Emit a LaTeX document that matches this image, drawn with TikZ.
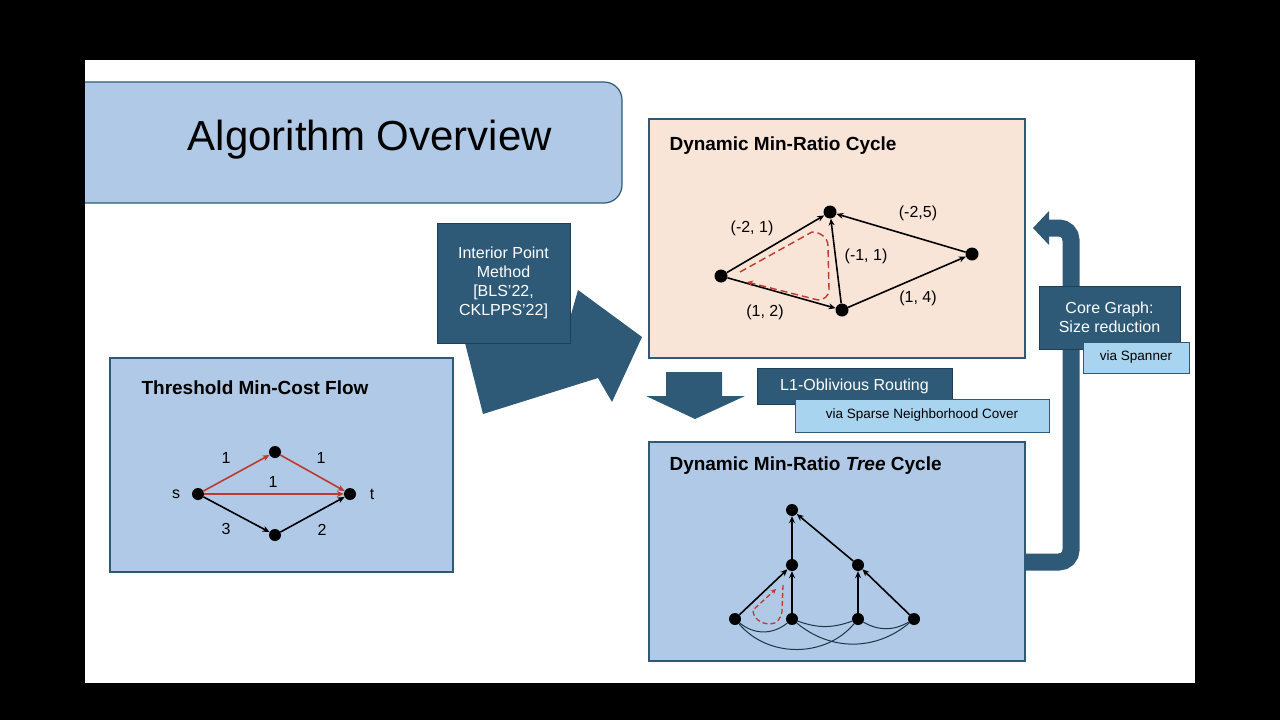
\documentclass[tikz,border=0pt]{standalone}
\usepackage{fontspec}
\setmainfont{Liberation Sans}
\usetikzlibrary{arrows.meta}
\definecolor{dk}{HTML}{2E5A78}
\definecolor{lb}{HTML}{AFC9E6}
\definecolor{pe}{HTML}{F8E5D8}
\definecolor{vb}{HTML}{A9D4EF}
\definecolor{rd}{HTML}{C0392B}
\tikzset{
  dot/.style={circle,fill=black,inner sep=0,minimum size=13pt},
  sdot/.style={circle,fill=black,inner sep=0,minimum size=12pt},
  ed/.style={line width=1.6pt,-{Stealth[length=7pt,width=6pt]}},
  red/.style={line width=1.6pt,draw=rd,-{Stealth[length=7pt,width=6pt]}},
  lbl/.style={font=\fontsize{16}{18}\selectfont},
  dkbox/.style={fill=dk,draw=dk!70!black,text=white,font=\fontsize{16}{19}\selectfont,align=center},
  vbox/.style={fill=vb,draw=dk,text=black,font=\fontsize{13.5}{16}\selectfont,inner sep=5pt},
  panel/.style={draw=dk,line width=1.2pt},
  ptitle/.style={font=\bfseries\fontsize{19}{22}\selectfont,anchor=west}
}
\begin{document}
\begin{tikzpicture}[x=1pt,y=-1pt]
\fill[black] (0,0) rectangle (1280,720);
\fill[white] (85,60) rectangle (1195,683);
\useasboundingbox (0,0) rectangle (1280,720);
% title
\draw[fill=lb,draw=dk,line width=1.2pt,rounded corners=18pt] (85,82) -- (622,82) -- (622,203) -- (85,203);
\node[font=\fontsize{42}{48}\selectfont] (title) at (370,140) {Algorithm Overview};
% top right panel
\draw[panel,fill=pe] (649,119) rectangle (1025,358);
\node[ptitle] (t1) at (666,146) {Dynamic Min-Ratio Cycle};
\node[dot] (A) at (721,276) {};
\node[dot] (B) at (830,212) {};
\node[dot] (C) at (842,310) {};
\node[dot] (D) at (972,254) {};
\draw[ed] (A) -- (B);
\draw[ed] (A) -- (C);
\draw[ed] (C) -- (B);
\draw[ed] (C) -- (D);
\draw[ed] (D) -- (B);
\node[lbl] (l1) at (752,228) {(-2, 1)};
\node[lbl] (l2) at (765,312) {(1, 2)};
\node[lbl] (l3) at (866,256) {(-1, 1)};
\node[lbl] (l4) at (918,298) {(1, 4)};
\node[lbl] (l5) at (918,213) {(-2,5)};
\draw[line width=1.4pt,draw=rd,dashed,dash pattern=on 7pt off 4pt,-{Stealth[length=6pt,width=6pt]}]
  (740,272) -- (812,232) to[out=0,in=90] (828,246) -- (829,290) to[out=-90,in=0] (818,300) -- (747,282);
% bottom right panel
\draw[panel,fill=lb] (649,442) rectangle (1025,661);
\node[ptitle] (t2) at (666,466) {Dynamic Min-Ratio \textit{Tree} Cycle};
\node[sdot] (T) at (792,510) {};
\node[sdot] (M1) at (792,565) {};
\node[sdot] (M2) at (858,565) {};
\node[sdot] (B1) at (735,619) {};
\node[sdot] (B2) at (792,619) {};
\node[sdot] (B3) at (858,619) {};
\node[sdot] (B4) at (914,619) {};
\draw[ed] (M1) -- (T);
\draw[ed] (M2) -- (T);
\draw[ed] (B1) -- (M1);
\draw[ed] (B2) -- (M1);
\draw[ed] (B3) -- (M2);
\draw[ed] (B4) -- (M2);
\begin{scope}[line width=1pt,draw=dk!60!black]
\draw (B1) to[out=-40,in=-140] (B2);
\draw (B2) to[out=-20,in=-160] (B3);
\draw (B3) to[out=-30,in=-150] (B4);
\draw (B1) to[out=-50,in=-130] (B3);
\draw (B2) to[out=-40,in=-140] (B4);
\end{scope}
\draw[line width=1.3pt,draw=rd,dashed,dash pattern=on 5pt off 3pt,-{Stealth[length=5pt,width=5pt]}]
  (783,585) -- (782,612) to[out=-100,in=0] (770,624) to[out=180,in=-90] (753,610) -- (776,589);
% left panel
\draw[panel,fill=lb] (110,358) rectangle (453,572);
\node[ptitle] (t3) at (138,388) {Threshold Min-Cost Flow};
\node[sdot] (s) at (198,494) {};
\node[sdot] (u) at (275,452) {};
\node[sdot] (t) at (350,494) {};
\node[sdot] (w) at (275,535) {};
\draw[red] (s) -- (u);
\draw[red] (u) -- (t);
\draw[red] (s) -- (t);
\draw[ed] (s) -- (w);
\draw[ed] (w) -- (t);
\node[lbl] (e1) at (226,458) {1};
\node[lbl] (e2) at (321,458) {1};
\node[lbl] (e3) at (273,482) {1};
\node[lbl] (e4) at (226,529) {3};
\node[lbl] (e5) at (322,530) {2};
\node[lbl] (ls) at (176,494) {s};
\node[lbl] (lt) at (372,494) {t};
% big arrow
\fill[dk] (465,343) -- (570,318) -- (578,290) -- (642,337) -- (612,402) -- (598,378) -- (483,414) -- cycle;
\node[dkbox,minimum width=133pt,minimum height=120pt] (ipm) at (503.5,283) {Interior Point\\Method\\{[BLS'22,}\\CKLPPS'22]};
% down arrow
\fill[dk] (666,372) -- (722,372) -- (722,396) -- (745,396) -- (695,419) -- (646,396) -- (666,396) -- cycle;
\node[dkbox,minimum width=195pt,minimum height=36pt] (l1o) at (854.5,386) {L1-Oblivious Routing};
\node[vbox,minimum width=254pt,minimum height=33pt] (snc) at (922,415.5) {via Sparse Neighborhood Cover};
% U arrow
\draw[dk,line width=17pt,rounded corners=12pt] (1025,562) -- (1071,562) -- (1071,228) -- (1048,228);
\fill[dk] (1049,211) -- (1033,228) -- (1049,245) -- cycle;
\node[dkbox,minimum width=141pt,minimum height=63pt] (cg) at (1109.5,317.5) {Core Graph:\\Size reduction};
\node[vbox,minimum width=106pt,minimum height=31pt] (sp) at (1136,357.5) {via Spanner};
\end{tikzpicture}
\end{document}
